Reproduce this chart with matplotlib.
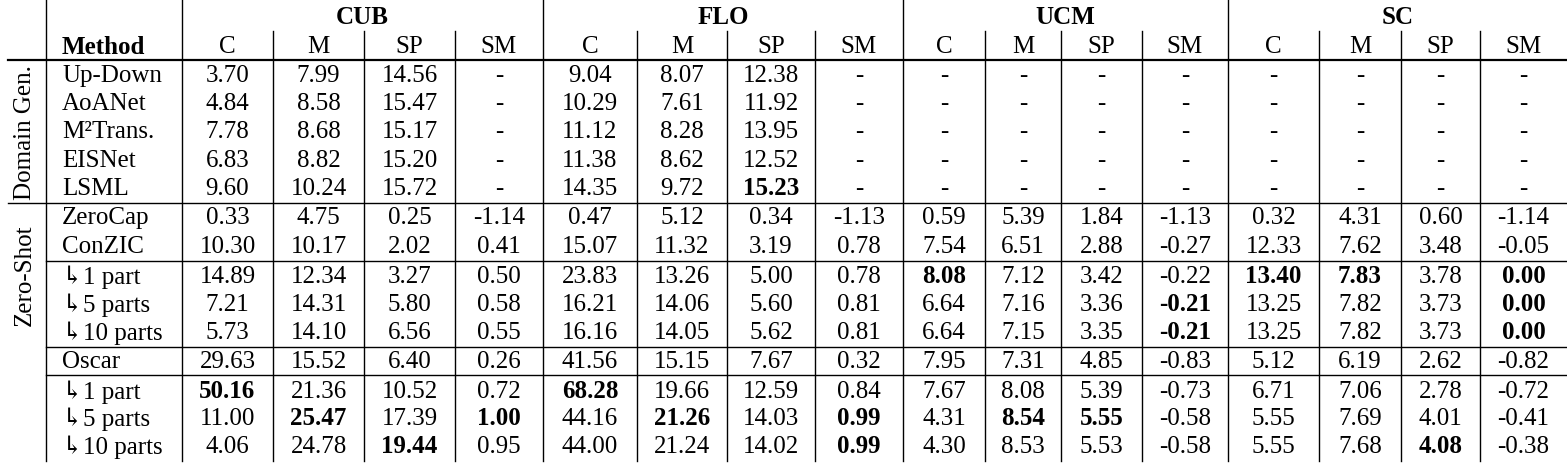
import matplotlib
matplotlib.use("Agg")
import matplotlib.pyplot as plt

plt.rcParams['font.family'] = ['Liberation Serif', 'DejaVu Serif']

datasets = ["CUB", "FLO", "UCM", "SC"]
metrics = ["C", "M", "SP", "SM"]
# label, first row, last row (exclusive) used to centre the label
groups = [("Domain Gen.", 0, 5), ("Zero-Shot", 5, 10)]

methods = ["Up-Down", "AoANet", "M\u00b2Trans.", "EISNet", "LSML",
           "ZeroCap", "ConZIC", "\u21b31 part", "\u21b35 parts", "\u21b310 parts",
           "Oscar", "\u21b31 part", "\u21b35 parts", "\u21b310 parts"]

D = "-"
rows = [
    ["3.70", "7.99", "14.56", D, "9.04", "8.07", "12.38", D] + [D] * 8,
    ["4.84", "8.58", "15.47", D, "10.29", "7.61", "11.92", D] + [D] * 8,
    ["7.78", "8.68", "15.17", D, "11.12", "8.28", "13.95", D] + [D] * 8,
    ["6.83", "8.82", "15.20", D, "11.38", "8.62", "12.52", D] + [D] * 8,
    ["9.60", "10.24", "15.72", D, "14.35", "9.72", "15.23", D] + [D] * 8,
    ["0.33", "4.75", "0.25", "-1.14", "0.47", "5.12", "0.34", "-1.13",
     "0.59", "5.39", "1.84", "-1.13", "0.32", "4.31", "0.60", "-1.14"],
    ["10.30", "10.17", "2.02", "0.41", "15.07", "11.32", "3.19", "0.78",
     "7.54", "6.51", "2.88", "-0.27", "12.33", "7.62", "3.48", "-0.05"],
    ["14.89", "12.34", "3.27", "0.50", "23.83", "13.26", "5.00", "0.78",
     "8.08", "7.12", "3.42", "-0.22", "13.40", "7.83", "3.78", "0.00"],
    ["7.21", "14.31", "5.80", "0.58", "16.21", "14.06", "5.60", "0.81",
     "6.64", "7.16", "3.36", "-0.21", "13.25", "7.82", "3.73", "0.00"],
    ["5.73", "14.10", "6.56", "0.55", "16.16", "14.05", "5.62", "0.81",
     "6.64", "7.15", "3.35", "-0.21", "13.25", "7.82", "3.73", "0.00"],
    ["29.63", "15.52", "6.40", "0.26", "41.56", "15.15", "7.67", "0.32",
     "7.95", "7.31", "4.85", "-0.83", "5.12", "6.19", "2.62", "-0.82"],
    ["50.16", "21.36", "10.52", "0.72", "68.28", "19.66", "12.59", "0.84",
     "7.67", "8.08", "5.39", "-0.73", "6.71", "7.06", "2.78", "-0.72"],
    ["11.00", "25.47", "17.39", "1.00", "44.16", "21.26", "14.03", "0.99",
     "4.31", "8.54", "5.55", "-0.58", "5.55", "7.69", "4.01", "-0.41"],
    ["4.06", "24.78", "19.44", "0.95", "44.00", "21.24", "14.02", "0.99",
     "4.30", "8.53", "5.53", "-0.58", "5.55", "7.68", "4.08", "-0.38"],
]

# (row, col) of bold cells
bold = {(4, 6), (7, 8), (7, 12), (7, 13), (7, 15), (8, 11), (8, 15), (9, 11), (9, 15),
        (11, 0), (11, 4), (12, 1), (12, 3), (12, 5), (12, 7), (12, 9), (12, 10),
        (13, 2), (13, 7), (13, 14)}

# layout in pixels
W, H = 1567, 464
col_lines = [182, 273, 364, 455, 543, 637, 727, 815, 903, 985, 1061, 1142,
             1228, 1319, 1401, 1480, 1567]
group_lines = [46, 182, 543, 903, 1228]
row_y = [76, 104, 132, 161, 189, 218, 247, 277, 305, 333, 362, 392, 419, 447]
full_hlines = [61, 204]
inner_hlines = [262, 348, 376]
fs = 18

fig = plt.figure(figsize=(W / 100, H / 100), dpi=100)
ax = fig.add_axes([0, 0, 1, 1])
ax.set_xlim(0, W)
ax.set_ylim(H, 0)
ax.axis("off")

lw = 1.0
for x in group_lines:
    ax.plot([x, x], [0, 462], color="black", lw=lw)
for x in col_lines[:-1]:
    if x not in group_lines:
        ax.plot([x, x], [32, 462], color="black", lw=lw)
for y in full_hlines:
    ax.plot([8, W], [y, y], color="black", lw=lw * (1.6 if y == 61 else 1))
for y in inner_hlines:
    ax.plot([46, W], [y, y], color="black", lw=lw)

for g, name in enumerate(datasets):
    x0, x1 = col_lines[4 * g], col_lines[4 * g + 4]
    ax.text((x0 + x1) / 2, 18, name, ha="center", va="center", fontsize=fs,
            fontweight="bold")
    for k, m in enumerate(metrics):
        c = 4 * g + k
        ax.text((col_lines[c] + col_lines[c + 1]) / 2, 47, m, ha="center",
                va="center", fontsize=fs)
ax.text(62, 47, "Method", ha="left", va="center", fontsize=fs, fontweight="bold")

for name, a, b in groups:
    yc = (row_y[a] + row_y[b - 1]) / 2
    ax.text(25, yc, name, ha="center", va="center", rotation=90, fontsize=fs)

for r, (m, vals) in enumerate(zip(methods, rows)):
    y = row_y[r]
    ax.text(62, y, m, ha="left", va="center", fontsize=fs)
    for c, v in enumerate(vals):
        ax.text((col_lines[c] + col_lines[c + 1]) / 2, y, v, ha="center",
                va="center", fontsize=fs,
                fontweight="bold" if (r, c) in bold else "normal")

fig.savefig("out.png", dpi=100)
